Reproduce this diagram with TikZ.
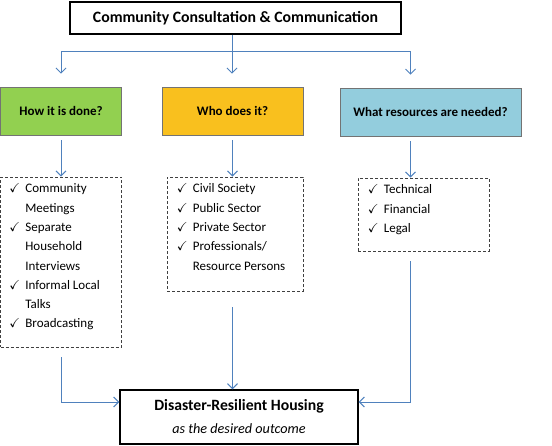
\documentclass[tikz,border=0pt]{standalone}
\usepackage{fontspec}
\setmainfont{Carlito}
\usepackage{amssymb}
\usetikzlibrary{arrows.meta}

\definecolor{howgreen}{RGB}{146,208,80}
\definecolor{whoorange}{RGB}{249,192,30}
\definecolor{whatblue}{RGB}{147,205,221}
\definecolor{flowblue}{RGB}{79,129,189}

\tikzset{
	flow/.style={draw=flowblue, line width=1pt},
	head/.style={flow, -{Straight Barb[length=5pt,width=10pt]}},
	title/.style={draw=black, line width=1.4pt, font=\bfseries\fontsize{15.8}{18}\selectfont, minimum width=331pt, minimum height=32pt},
	question/.style={draw=black!55, line width=0.6pt, font=\bfseries\fontsize{13}{16}\selectfont, minimum height=48pt},
	listbox/.style={draw=black!75, dash pattern=on 3pt off 2pt, line width=0.7pt},
	listtext/.style={anchor=north west, align=left, inner sep=0pt, font=\fontsize{13}{19.3}\selectfont},
}
\newcommand{\chk}{\makebox[16pt][l]{$\checkmark$}}
\newcommand{\itemgap}{\hspace*{16pt}}

\begin{document}
\begin{tikzpicture}[x=1pt,y=-1pt]
		\useasboundingbox (0,0) rectangle (552,445);
		
		\node[title] (top) at (235.5,18) {Community Consultation \& Communication};
		
		\node[question, fill=howgreen, minimum width=121pt] (how) at (61,111) {How it is done?};
		\node[question, fill=whoorange, minimum width=141pt] (who) at (232.5,111) {Who does it?};
		\node[question, fill=whatblue, minimum width=181pt] (what) at (430.5,112) {What resources are needed?};
		
		\node[listbox, minimum width=121pt, minimum height=170pt] (howlist) at (61,262) {};
		\node[listbox, minimum width=136pt, minimum height=114pt] (wholist) at (235,234) {};
		\node[listbox, minimum width=131pt, minimum height=73pt] (whatlist) at (423.5,214.5) {};
		
		\node[listtext] (howitems) at ([xshift=9pt,yshift=-7pt]howlist.north west) {\chk Community\\ \itemgap Meetings\\ \chk Separate\\ \itemgap Household\\ \itemgap Interviews\\ \chk Informal Local\\ \itemgap Talks\\ \chk Broadcasting};
		\node[listtext] (whoitems) at ([xshift=10pt,yshift=-7pt]wholist.north west) {\chk Civil Society\\ \chk Public Sector\\ \chk Private Sector\\ \chk Professionals/\\ \itemgap Resource Persons};
		\node[listtext] (whatitems) at ([xshift=10pt,yshift=-7pt]whatlist.north west) {\chk Technical\\ \chk Financial\\ \chk Legal};
		
		\node[draw=black, line width=1.4pt, minimum width=238pt, minimum height=54pt, align=center, font=\fontsize{14.2}{23}\selectfont] (goal) at (239,417) {{\bfseries\fontsize{15.7}{23}\selectfont Disaster-Resilient Housing}\\{\itshape as the desired outcome}};
		
		\coordinate (bus) at (232,51);
		\coordinate (whatcol) at ([xshift=-20pt]what.north);
		\coordinate (goalrow) at ([yshift=15pt]goal.center);
		
		\draw[flow] (top.south -| bus) -- (bus);
		\draw[flow] (how.north |- bus) -- (whatcol |- bus);
		\draw[head, shorten >=13pt] (how.north |- bus) -- (how.north);
		\draw[head, shorten >=13pt] (bus) -- (bus |- who.north);
		\draw[head, shorten >=13pt] (whatcol |- bus) -- (whatcol);
		
		\draw[head, shorten <=5pt] (how.south) -- (how.south |- howlist.north);
		\draw[head, shorten <=5pt] (who.south) -- (who.south |- wholist.north);
		\draw[head, shorten <=5pt] (whatcol |- what.south) -- (whatcol |- whatlist.north);
		
		\draw[head, shorten <=10pt] (howlist.south) |- (goalrow -| goal.west);
		\draw[head, shorten <=16pt] (who.south |- wholist.south) -- (who.south |- goal.north);
		\draw[head, shorten <=10pt] (whatcol |- whatlist.south) |- (goalrow -| goal.east);
\end{tikzpicture}
\end{document}
